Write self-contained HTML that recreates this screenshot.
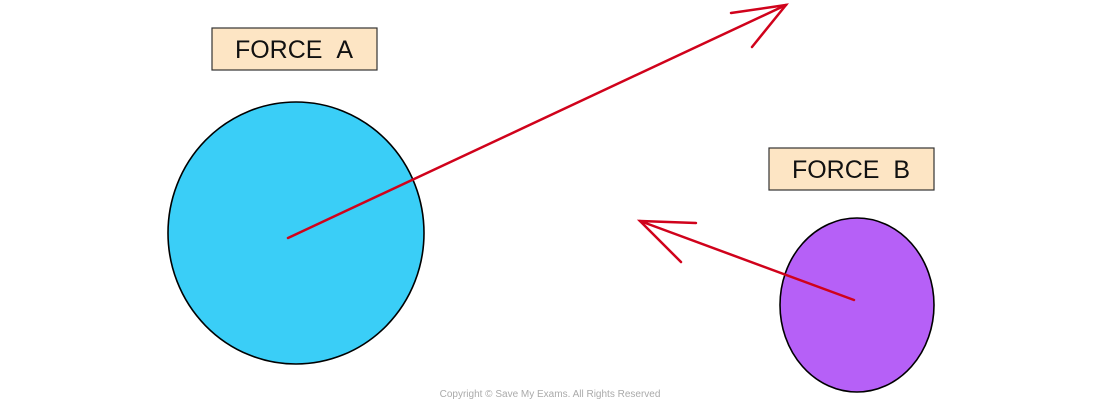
<!DOCTYPE html>
<html><head><style>
html,body{margin:0;padding:0;background:#fff;}
svg{display:block;}
text{font-family:"Liberation Sans",sans-serif;}
</style></head><body>
<svg width="1100" height="404" viewBox="0 0 1100 404">
<ellipse cx="296" cy="233" rx="128" ry="131" fill="#3acef7" stroke="#000" stroke-width="1.6"/>
<ellipse cx="857" cy="305" rx="77" ry="87" fill="#b660f7" stroke="#000" stroke-width="1.6"/>
<rect x="212" y="28" width="165" height="42" fill="#fde5c4" stroke="#333" stroke-width="1.2"/>
<text x="294" y="58" font-size="25" text-anchor="middle" fill="#111">FORCE&#160;&#160;A</text>
<rect x="769" y="148" width="165" height="42" fill="#fde5c4" stroke="#333" stroke-width="1.2"/>
<text x="851" y="178" font-size="25" text-anchor="middle" fill="#111">FORCE&#160;&#160;B</text>
<g stroke="#d0021b" stroke-width="2.5" fill="none" stroke-linecap="round">
<line x1="288" y1="238" x2="786" y2="5"/>
<polyline points="731,13 786,5 752,47"/>
<line x1="854" y1="300" x2="640" y2="221"/>
<polyline points="696,223 640,221 681,262"/>
</g>
<text x="550" y="397" font-size="10" text-anchor="middle" fill="#aaa">Copyright © Save My Exams. All Rights Reserved</text>
</svg>
</body></html>
